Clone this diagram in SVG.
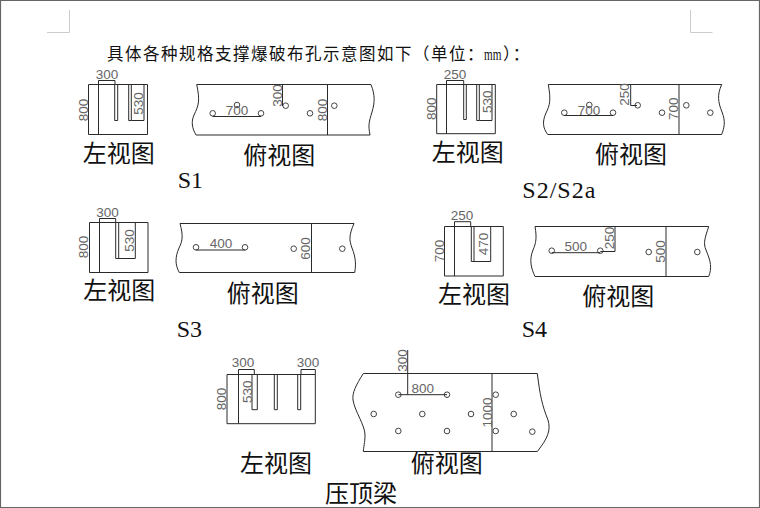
<svg xmlns="http://www.w3.org/2000/svg" width="760" height="508" viewBox="0 0 760 508">
<style>
.l{fill:none;stroke:#2a2a2a;stroke-width:1}
.c{fill:none;stroke:#444;stroke-width:1}
.m{fill:none;stroke:#ccc;stroke-width:1}
.d{font-family:"Liberation Sans",Arial,sans-serif;font-size:13.5px;fill:#666;text-anchor:middle}
.t{font-family:"Noto Sans CJK SC",sans-serif;font-size:24px;fill:#111}
.s{font-family:"Liberation Serif","Times New Roman",serif;font-size:24px;fill:#111}
.h{font-family:"Noto Sans CJK SC",sans-serif;font-size:16.5px;fill:#111;letter-spacing:1.5px}
</style>
<rect x="0" y="0" width="760" height="508" fill="#fff"/>
<path class="m" d="M69.5 10V32.5H47M690.5 10V32.5H712.5"/>
<path d="M.5 0V507.5H759.5V.5H0" fill="none" stroke="#666" stroke-width="1.2"/>
<text class="h" x="107" y="60">具体各种规格支撑爆破布孔示意图如下（单位：</text>
<text transform="translate(484 60) scale(.7 1)" font-family="Liberation Serif,serif" font-size="16" fill="#111">mm</text>
<text class="h" x="503" y="60">）：</text>

<g id="s1-left">
<path class="l" d="M88.5 84.5H147.5V134.5H88.5ZM98.5 84.5V134.5M98.5 84.5V80.5H115V84.5M114.7 84.5V120.5H117.7V84.5M128.7 84.5V120.5H131.3V84.5M131.3 120.5H144V84.5"/>
<text class="d" x="107" y="79">300</text>
<text class="d" transform="translate(88 110) rotate(-90)">800</text>
<text class="d" transform="translate(143.3 103.5) rotate(-90)">530</text>
<text class="t" x="82.7" y="161.7">左视图</text>
</g>
<g id="s1-top">
<path class="l" d="M196.7 84.5H371M196 135H370M327.5 84.5V135M196.7 84.5C200 100 199 105 194 115C191 122 192 128 196 135M371 84.5C375 95 375 102 372 112C369 122 368 125 370 135"/>
<circle class="c" cx="212.7" cy="113.3" r="2.8"/><circle class="c" cx="261" cy="113.3" r="2.8"/><circle class="c" cx="237" cy="105" r="2.8"/><circle class="c" cx="285.7" cy="105.7" r="2.8"/><circle class="c" cx="310" cy="113.3" r="2.8"/><circle class="c" cx="334.3" cy="105.7" r="2.8"/>
<path class="l" d="M212.7 116.5H261M282.5 84.5V106"/>
<text class="d" x="237" y="115">700</text>
<text class="d" transform="translate(281.7 95.5) rotate(-90)">300</text>
<text class="d" transform="translate(326.5 110) rotate(-90)">800</text>
<text class="t" x="243.3" y="163.7">俯视图</text>
<text class="s" x="177.7" y="187.7">S1</text>
</g>

<g id="s2-left">
<path class="l" d="M436.7 84.5H495.3V133.7H436.7ZM446.5 84.5V133.7M446.5 84.5V80.5H463.7V84.5M463.7 84.5V119.5H466.3V84.5M476.7 84.5V120.5H479.3V84.5M479.3 120.5H492V84.5"/>
<text class="d" x="455" y="79">250</text>
<text class="d" transform="translate(436 108.8) rotate(-90)">800</text>
<text class="d" transform="translate(491.7 101.7) rotate(-90)">530</text>
<text class="t" x="431.7" y="160.7">左视图</text>
</g>
<g id="s2-top">
<path class="l" d="M548.3 84.5H721.7M547.7 134.5H721.7M679 84.5V134.5M548.3 84.5C551 100 550 105 546 113C542 122 543 128 547.7 134.5M721.7 84.5C717 95 718 102 722 112C726 122 724 128 721.7 134.5"/>
<circle class="c" cx="564.3" cy="112.7" r="2.8"/><circle class="c" cx="613" cy="112.7" r="2.8"/><circle class="c" cx="589.3" cy="105" r="2.8"/><circle class="c" cx="637.7" cy="105.3" r="2.8"/><circle class="c" cx="662" cy="112.7" r="2.8"/><circle class="c" cx="686.3" cy="105.3" r="2.8"/><circle class="c" cx="710.3" cy="112.7" r="2.8"/>
<path class="l" d="M564.3 115.5H613M630.7 84.5V105.5H637"/>
<text class="d" x="589" y="115">700</text>
<text class="d" transform="translate(628.7 94.5) rotate(-90)">250</text>
<text class="d" transform="translate(678 108.8) rotate(-90)">700</text>
<text class="t" x="595" y="163">俯视图</text>
<text class="s" x="522.3" y="198.3" letter-spacing="1">S2/S2a</text>
</g>

<g id="s3-left">
<path class="l" d="M89.5 222.5H148V272.5H89.5ZM99.5 222.5V272.5M99.5 222.5V218.5H115.7V222.5M115.7 222.5V258.5H135.3V222.5M118.7 222.5V258.5"/>
<text class="d" x="107.5" y="217">300</text>
<text class="d" transform="translate(88.3 247) rotate(-90)">800</text>
<text class="d" transform="translate(134 240.5) rotate(-90)">530</text>
<text class="t" x="83.3" y="299">左视图</text>
</g>
<g id="s3-top">
<path class="l" d="M180 223.5H354M179.3 272.5H354.7M311.5 223.5V272.5M180 223.5C183 235 183 240 179 248C175 257 175 265 179.3 272.5M354 223.5C349 235 349 240 352 248C356 258 356 265 354.7 272.5"/>
<circle class="c" cx="196" cy="247.3" r="2.8"/><circle class="c" cx="245" cy="247.3" r="2.8"/><circle class="c" cx="293.7" cy="248.7" r="2.8"/><circle class="c" cx="342.3" cy="248.7" r="2.8"/>
<path class="l" d="M196 250H245"/>
<text class="d" x="221" y="248">400</text>
<text class="d" transform="translate(310 248.5) rotate(-90)">600</text>
<text class="t" x="226.7" y="301.7">俯视图</text>
<text class="s" x="176.7" y="337">S3</text>
</g>

<g id="s4-left">
<path class="l" d="M444.5 226.5H503.3V276H444.5ZM454.5 226.5V276M454.5 226.5V221.7H470.7V226.5M471.3 226.5V261.5H490.7V226.5M474 226.5V261.5"/>
<text class="d" x="462" y="220">250</text>
<text class="d" transform="translate(444 251) rotate(-90)">700</text>
<text class="d" transform="translate(488.3 244) rotate(-90)">470</text>
<text class="t" x="438" y="303">左视图</text>
</g>
<g id="s4-top">
<path class="l" d="M535 226.5H708.7M535 276.5H708.7M666 226.5V276.5M535 226.5C537 238 536 243 533 250C529 260 531 268 535 276.5M708.7 226.5C705 238 703 243 706 250C711 262 712 268 708.7 276.5"/>
<circle class="c" cx="551.7" cy="250.7" r="2.8"/><circle class="c" cx="600.3" cy="250.7" r="2.8"/><circle class="c" cx="648.7" cy="252" r="2.8"/><circle class="c" cx="697.3" cy="252" r="2.8"/>
<path class="l" d="M551.7 252.7H600.3M600.3 251.5H615V226.5H600.5"/>
<text class="d" x="575.7" y="251">500</text>
<text class="d" transform="translate(614 238) rotate(-90)">250</text>
<text class="d" transform="translate(665 251.5) rotate(-90)">500</text>
<text class="t" x="582.3" y="305">俯视图</text>
<text class="s" x="521.7" y="337">S4</text>
</g>

<g id="beam-left">
<path class="l" d="M227 374.5H315.3V423.7H227ZM238.5 374.5V423.7M238.5 374.5V369.5H254.3V374.5M252 374.5V409.7H257.3V374.5M274.3 374.5V409.7H277.3V374.5M297.7 374.5V409.7H300.7V374.5M301 374.5V369.5H315.3V374.5"/>
<text class="d" x="243" y="367">300</text>
<text class="d" x="308" y="367">300</text>
<text class="d" transform="translate(225.7 399) rotate(-90)">800</text>
<text class="d" transform="translate(251.7 391.7) rotate(-90)">530</text>
<text class="t" x="240" y="471.7">左视图</text>
</g>
<g id="beam-top">
<path class="l" d="M363.3 373.5H537.3M363.3 451.5H537.3M492 373.5V451.5M363.3 373.5C356 385 352 393 353 400C355 412 365 425 365 435C365 443 363.5 447 363.3 451.5M537.3 373.5C540 395 542 405 548 420C551 430 548 438 537.3 451.5"/>
<circle class="c" cx="398.3" cy="394.7" r="2.8"/><circle class="c" cx="447" cy="394.7" r="2.8"/><circle class="c" cx="495.7" cy="394.7" r="2.8"/><circle class="c" cx="373.7" cy="414" r="2.8"/><circle class="c" cx="422.3" cy="414" r="2.8"/><circle class="c" cx="471" cy="414" r="2.8"/><circle class="c" cx="513.7" cy="414" r="2.8"/><circle class="c" cx="398.3" cy="431" r="2.8"/><circle class="c" cx="447" cy="431" r="2.8"/><circle class="c" cx="495.7" cy="431" r="2.8"/><circle class="c" cx="532.3" cy="431.7" r="2.8"/>
<path class="l" d="M407.7 350V394.7M398.3 394.7H447"/>
<text class="d" transform="translate(406.7 360.5) rotate(-90)">300</text>
<text class="d" x="422.7" y="392.7">800</text>
<text class="d" transform="translate(491.7 412.5) rotate(-90)">1000</text>
<text class="t" x="410.7" y="472">俯视图</text>
<text class="t" x="325" y="502">压顶梁</text>
</g>
</svg>
